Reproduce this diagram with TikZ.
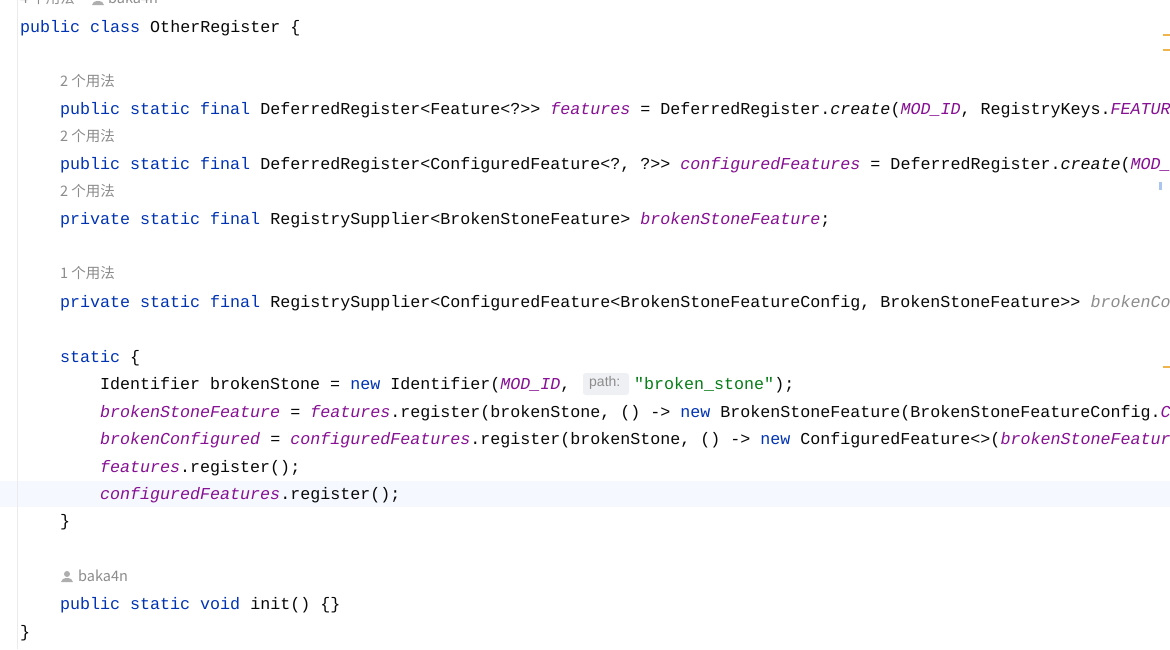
\documentclass[tikz,border=0pt]{standalone}
\usepackage{fontspec}
\setmonofont{Liberation Mono}
\newfontfamily\cjk{Noto Sans CJK SC}
\newfontfamily\hintfont{Liberation Sans}
\definecolor{kwc}{HTML}{0033B3}
\definecolor{fdc}{HTML}{871094}
\definecolor{stc}{HTML}{067D17}
\definecolor{grc}{HTML}{8C8C8C}
\definecolor{txc}{HTML}{080808}
\definecolor{hlc}{HTML}{F5F8FE}
\definecolor{gutc}{HTML}{EBEBEB}
\definecolor{orc}{HTML}{F0B44C}
\definecolor{blc}{HTML}{A9C5F0}
\definecolor{hintbg}{HTML}{EEF0F3}
\newcommand\kwd[1]{\textcolor{kwc}{#1}}
\newcommand\fld[1]{\textcolor{fdc}{\itshape #1}}
\newcommand\ita[1]{{\itshape #1}}
\newcommand\strg[1]{\textcolor{stc}{#1}}
\tikzset{
 code/.style={anchor=mid west,inner sep=0pt,yshift=-3pt,font=\ttfamily\fontsize{16.67}{20}\selectfont,text=txc},
 usage/.style={anchor=mid west,inner sep=0pt,yshift=-2pt,font=\cjk\fontsize{14.5}{16}\selectfont,text=grc},
}
\begin{document}
\begin{tikzpicture}[x=1pt,y=-1pt]
\useasboundingbox (0,0) rectangle (1170,649);
\clip (0,0) rectangle (1170,649);
\fill[white] (0,0) rectangle (1170,649);
\fill[hlc] (0,481) rectangle (1170,507);
\draw[gutc,line width=1pt] (17,0) -- (17,649);
% right marks
\fill[orc] (1163,34) rectangle (1170,36);
\fill[orc] (1163,49) rectangle (1170,51);
\fill[blc] (1159,182) rectangle (1162,190);
\fill[orc] (1163,366) rectangle (1170,368);
% line 0
\node[usage] (u0) at (20,-1) {4 个用法};
\fill[grc!70] (98,-3) circle (3);
\fill[grc!70] (92,5) arc (180:360:6 and 4) -- cycle;
\node[usage] (u0b) at (108,-1) {baka4n};
\node[code] (l1) at (20,27) {\kwd{public class} OtherRegister \{};
\node[usage] (u1) at (60,82) {2 个用法};
\node[code] (l2) at (60,109) {\kwd{public static final} DeferredRegister<Feature<?>> \fld{features} = DeferredRegister.\ita{create}(\fld{MOD\_ID}, RegistryKeys.\fld{FEATURE}};
\node[usage] (u2) at (60,137) {2 个用法};
\node[code] (l3) at (60,164) {\kwd{public static final} DeferredRegister<ConfiguredFeature<?, ?>> \fld{configuredFeatures} = DeferredRegister.\ita{create}(\fld{MOD\_ID}};
\node[usage] (u3) at (60,192) {2 个用法};
\node[code] (l4) at (60,219) {\kwd{private static final} RegistrySupplier<BrokenStoneFeature> \fld{brokenStoneFeature};};
\node[usage] (u4) at (60,274) {1 个用法};
\node[code] (l5) at (60,302) {\kwd{private static final} RegistrySupplier<ConfiguredFeature<BrokenStoneFeatureConfig, BrokenStoneFeature>> \textcolor{grc}{\itshape brokenConfigured}};
\node[code] (l6) at (60,357) {\kwd{static} \{};
\node[code] (l7) at (100,384) {Identifier brokenStone = \kwd{new} Identifier(\fld{MOD\_ID}, };
\fill[hintbg,rounded corners=3pt] (583,373) rectangle (629,395);
\node[anchor=mid west,inner sep=0pt,font=\hintfont\fontsize{14}{16}\selectfont,text=grc] (h) at (589,384) {path:};
\node[code] (l7b) at (634,384) {\strg{"broken\_stone"});};
\node[code] (l8) at (100,412) {\fld{brokenStoneFeature} = \fld{features}.register(brokenStone, () -> \kwd{new} BrokenStoneFeature(BrokenStoneFeatureConfig.\fld{CODEC}};
\node[code] (l9) at (100,439) {\fld{brokenConfigured} = \fld{configuredFeatures}.register(brokenStone, () -> \kwd{new} ConfiguredFeature<>(\fld{brokenStoneFeature}};
\node[code] (l10) at (100,467) {\fld{features}.register();};
\node[code] (l11) at (100,494) {\fld{configuredFeatures}.register();};
\node[code] (l12) at (60,521) {\}};
\fill[grc!70] (67,574) circle (3);
\fill[grc!70] (61,582) arc (180:360:6 and 4) -- cycle;
\node[usage] (u5) at (78,577) {baka4n};
\node[code] (l13) at (60,604) {\kwd{public static void} init() \{\}};
\node[code] (l14) at (20,632) {\}};
\end{tikzpicture}
\end{document}
